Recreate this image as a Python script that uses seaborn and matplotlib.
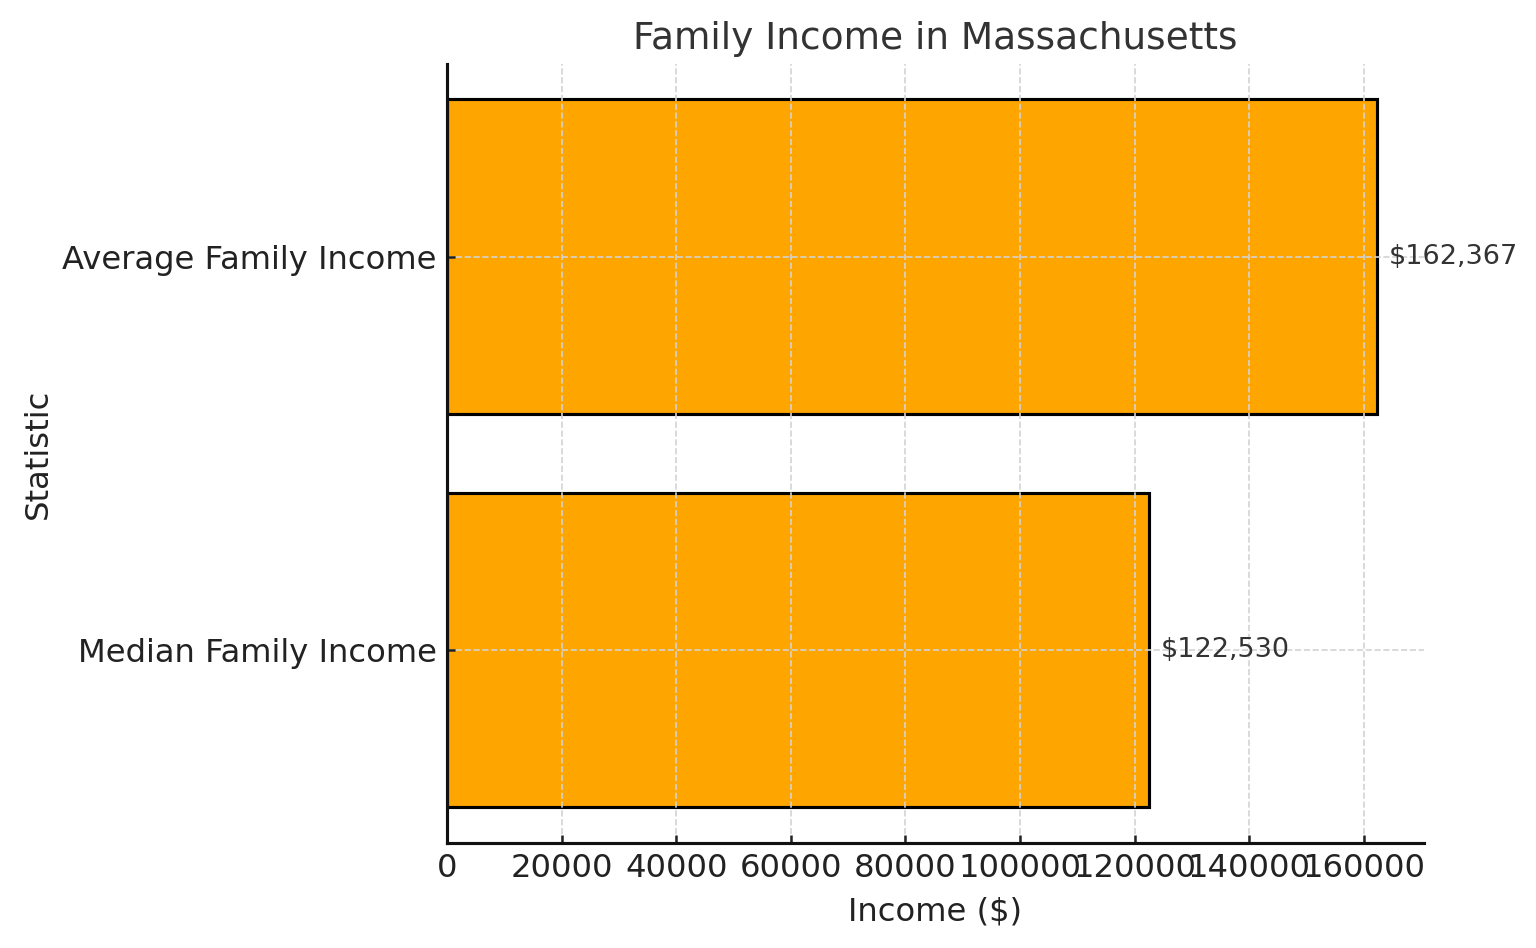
import matplotlib
matplotlib.use("Agg")
import matplotlib.pyplot as plt
import seaborn as sns
import pandas as pd

statistics = ["Average Family Income", "Median Family Income"]
incomes = [162367, 122530]

df = pd.DataFrame({"Statistic": statistics, "Income": incomes})

sns.set_style("ticks")
plt.rcParams["font.family"] = ["DejaVu Sans"]

fig, ax = plt.subplots(figsize=(10.24, 6.32), dpi=150)
sns.barplot(data=df, x="Income", y="Statistic", color="orange", saturation=1,
            edgecolor="black", linewidth=1.5, width=0.8, ax=ax)

for i, v in enumerate(incomes):
    ax.text(v + 2000, i, f"${v:,}", va="center", ha="left", fontsize=13, color="#333333")

ax.set_title("Family Income in Massachusetts", fontsize=18, color="#333333", pad=7)
ax.set_xlabel("Income ($)", fontsize=15.5, color="#222222", labelpad=6)
ax.set_ylabel("Statistic", fontsize=15.5, color="#222222")
ax.tick_params(axis="both", labelsize=15.5, colors="#222222", width=1.2,
               direction="in", length=4, pad=5)
ax.grid(True, linestyle="--", color="lightgray", linewidth=0.8)
ax.set_axisbelow(False)
ax.set_xlim(0, 170500)
ax.set_ylim(1.49, -0.49)
sns.despine(ax=ax)
for side in ["left", "bottom"]:
    ax.spines[side].set_color("#111111")
    ax.spines[side].set_linewidth(1.5)
    ax.spines[side].set_zorder(5)

fig.subplots_adjust(left=0.291, right=0.927, top=0.9325, bottom=0.111)
fig.savefig("out.png", dpi=150)
